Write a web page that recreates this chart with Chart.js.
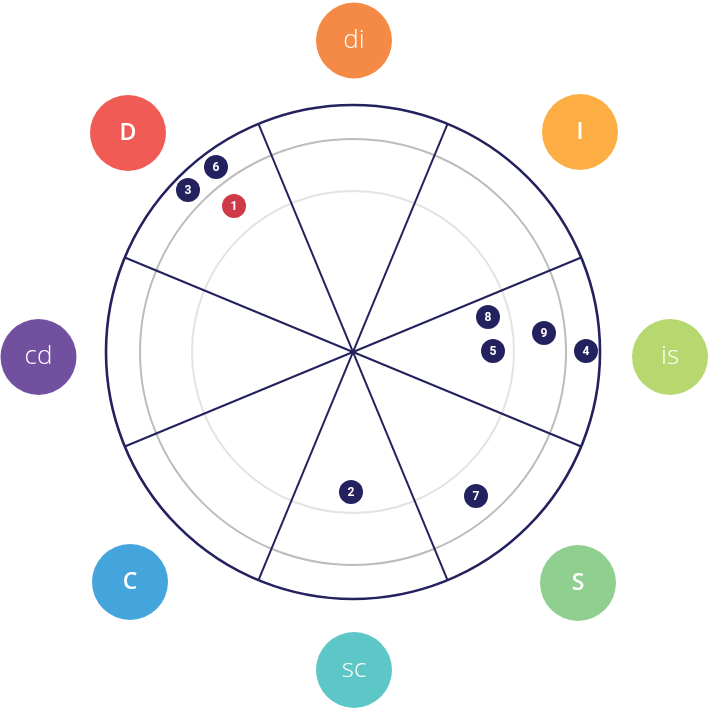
<!DOCTYPE html>
<html>
<head>
<meta charset="utf-8">
<script src="https://cdn.jsdelivr.net/npm/chart.js@4.4.0/dist/chart.umd.min.js"></script>
<style>
  html, body { margin: 0; padding: 0; background: #fff; }
  #wrap { width: 709px; height: 709px; }
</style>
</head>
<body>
<div id="wrap"><canvas id="disc" width="709" height="709"></canvas></div>
<script>
// estilos (letras do perfil) em volta da roda
const estilos = ['di', 'I', 'is', 'S', 'sc', 'C', 'cd', 'D'];
const estilosX = [1, 227, 317, 225, 1, -223, -314.5, -225];
const estilosY = [311.5, 220, -5, -231, -318, -230, -5, 219];
const estilosCor = ['#f48a45', '#fcae45', '#b6d86e', '#8fcf8f', '#5cc7c6', '#44a4dc', '#7150a0', '#f05b56'];
const estilosNegrito = [false, true, false, true, false, true, false, true];

// respondentes
const pontos = ['1', '6', '3', '8', '9', '5', '4', '2', '7'];
const pontosX = [-119, -137, -165, 135, 191, 140, 233, -2, 123];
const pontosY = [146, 185, 162, 35, 19, 1, 1, -140, -144];
const pontosCor = ['#cf3a48', '#24225e', '#24225e', '#24225e', '#24225e', '#24225e', '#24225e', '#24225e', '#24225e'];

// aneis e divisoes
const aneisRaio = [247, 213, 161];
const aneisCor = ['#24225e', '#bcbcbd', '#e3e3e4'];
const aneisLargura = [2.6, 2, 2];
const divisoesAngulo = [22.5, 67.5, 112.5, 157.5];

const linhasDivisao = divisoesAngulo.map(a => {
  const rad = a * Math.PI / 180;
  const r = aneisRaio[0];
  return {
    data: [
      { x: r * Math.cos(rad), y: r * Math.sin(rad) },
      { x: -r * Math.cos(rad), y: -r * Math.sin(rad) }
    ],
    showLine: true,
    borderColor: '#24225e',
    borderWidth: 2,
    pointRadius: 0,
    clip: false,
    order: 3
  };
});

const aneisPlugin = {
  id: 'aneis',
  beforeDatasetsDraw(chart) {
    const ctx = chart.ctx;
    const sx = chart.scales.x, sy = chart.scales.y;
    const cx = sx.getPixelForValue(0), cy = sy.getPixelForValue(0);
    ctx.save();
    aneisRaio.forEach((r, i) => {
      const rp = sx.getPixelForValue(r) - cx;
      ctx.beginPath();
      ctx.arc(cx, cy, rp, 0, Math.PI * 2);
      ctx.strokeStyle = aneisCor[i];
      ctx.lineWidth = aneisLargura[i];
      ctx.stroke();
    });
    ctx.restore();
  }
};

const textosPlugin = {
  id: 'textos',
  afterDatasetsDraw(chart) {
    const ctx = chart.ctx;
    ctx.save();
    ctx.fillStyle = '#fff';
    ctx.textAlign = 'center';
    ctx.textBaseline = 'middle';
    chart.getDatasetMeta(1).data.forEach((el, i) => {
      if (estilosNegrito[i]) {
        ctx.font = '600 23px "Open Sans", sans-serif';
      } else {
        ctx.font = '300 26px "Open Sans", sans-serif';
      }
      ctx.fillText(estilos[i], el.x, el.y);
    });
    ctx.font = 'bold 12px Roboto, sans-serif';
    chart.getDatasetMeta(0).data.forEach((el, i) => {
      ctx.fillText(pontos[i], el.x, el.y + 0.5);
    });
    ctx.restore();
  }
};

new Chart(document.getElementById('disc').getContext('2d'), {
  type: 'scatter',
  data: {
    datasets: [
      {
        data: pontosX.map((x, i) => ({ x: x, y: pontosY[i] })),
        pointRadius: 12,
        pointBackgroundColor: pontosCor,
        pointBorderWidth: 0,
        clip: false,
        order: 1
      },
      {
        data: estilosX.map((x, i) => ({ x: x, y: estilosY[i] })),
        pointRadius: 38,
        pointBackgroundColor: estilosCor,
        pointBorderWidth: 0,
        clip: false,
        order: 2
      },
      ...linhasDivisao
    ]
  },
  options: {
    responsive: false,
    animation: false,
    layout: { padding: 0, autoPadding: false },
    scales: {
      x: { type: 'linear', min: -353, max: 356, display: false },
      y: { type: 'linear', min: -357, max: 352, display: false }
    },
    plugins: {
      legend: { display: false },
      tooltip: { enabled: false }
    }
  },
  plugins: [aneisPlugin, textosPlugin]
});
</script>
</body>
</html>
